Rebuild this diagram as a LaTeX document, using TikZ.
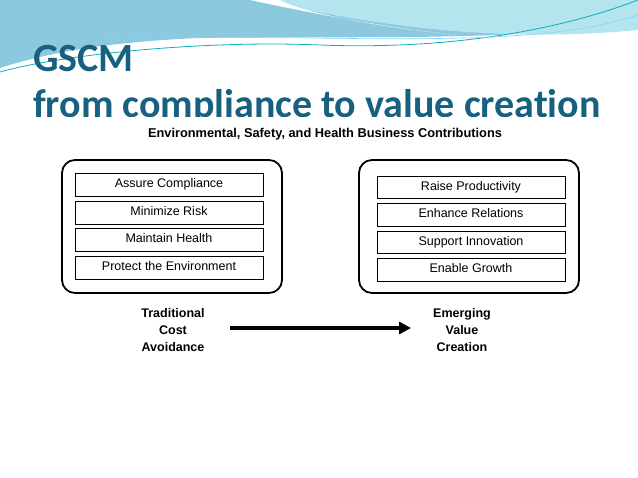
\documentclass[tikz,border=0pt]{standalone}
\usepackage{fontspec}
\setmainfont{Liberation Sans}
\newfontfamily\titlefont{Carlito}
\usetikzlibrary{arrows.meta}
\definecolor{teal}{RGB}{24,96,128}
\definecolor{wave1}{RGB}{140,200,222}
\definecolor{wave2}{RGB}{180,228,238}
\begin{document}
\begin{tikzpicture}[x=1pt,y=-1pt,
  outer/.style={draw,line width=1.8pt,rounded corners=13pt},
  item/.style={draw,line width=0.8pt,minimum width=188pt,minimum height=23pt,inner sep=0pt,text height=9pt,text depth=2.5pt,font=\fontsize{12.5}{14}\selectfont},
  lab/.style={align=center,font=\bfseries\fontsize{12.5}{17}\selectfont}]
\useasboundingbox (0,0) rectangle (638,478);
\fill[white] (0,0) rectangle (638,478);
% waves
\fill[wave1] (0,0) -- (700,0) -- (700,10) .. controls (560,45) and (380,35) .. (200,38) .. controls (100,42) and (40,55) .. (0,68) -- cycle;
\fill[wave2] (260,0) .. controls (350,20) and (480,45) .. (638,30) -- (638,0) -- cycle;
\fill[white] (250,0) .. controls (320,15) and (400,30) .. (460,35) .. controls (380,28) and (300,12) .. (280,0) -- cycle;
\draw[teal!50!cyan,line width=0.8pt] (0,72) .. controls (60,55) and (200,40) .. (320,45) .. controls (450,50) and (560,30) .. (638,0);
\draw[cyan!50,line width=0.6pt] (100,40) .. controls (300,30) and (520,55) .. (638,15);
% title
\node[anchor=base west,text=teal,font=\titlefont\bfseries\fontsize{40}{44}\selectfont,inner sep=0pt] (t1) at (33,72) {GSCM};
\node[anchor=base west,text=teal,font=\titlefont\bfseries\fontsize{40}{44}\selectfont,inner sep=0pt] (t2) at (33,118) {from compliance to value creat\kern0pt ion};
% image panel
\fill[white] (36,117) rectangle (604,393);
\node[font=\bfseries\fontsize{12.8}{15}\selectfont] (head) at (325,134) {Environmental, Safety, and Health Business Contributions};
\draw[outer] (62,160) rectangle (282,293);
\draw[outer] (359,160) rectangle (579,293);
\node[item] (a1) at (169,184.5) {Assure Compliance};
\node[item] (a2) at (169,212.5) {Minimize Risk};
\node[item] (a3) at (169,239.5) {Maintain Health};
\node[item] (a4) at (169,267.5) {Protect the Environment};
\node[item,minimum height=22pt] (b1) at (471,187) {Raise Productivity};
\node[item] (b2) at (471,214.5) {Enhance Relations};
\node[item,minimum height=22pt] (b3) at (471,242) {Support Innovation};
\node[item] (b4) at (471,269.5) {Enable Growth};
\node[lab] (L) at (173,330) {Traditional\\Cost\\Avoidance};
\node[lab] (R) at (462,330) {Emerging\\Value\\Creation};
\coordinate (s) at (230,328);
\coordinate (e) at (411,328);
\draw[line width=3.5pt,-{Triangle[length=12pt,width=12pt]}] (s) -- (e);
\end{tikzpicture}
\end{document}
